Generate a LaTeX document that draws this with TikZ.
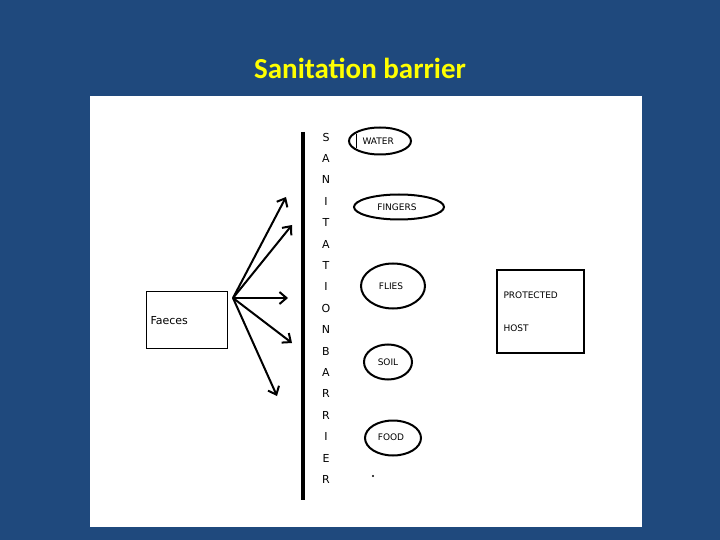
\documentclass[tikz,border=0pt]{standalone}
\usepackage{fontspec}
\usetikzlibrary{shapes.geometric,arrows.meta}
\setmainfont{DejaVu Sans}
\newfontfamily\titlefont{Carlito}
\definecolor{bg}{HTML}{1F497D}
\definecolor{ttl}{HTML}{FFFF00}
\begin{document}
\begin{tikzpicture}[x=1pt,y=-1pt,
  lbl/.style={font=\fontsize{9}{10}\selectfont},
  blob/.style={draw,line width=2pt,ellipse,inner sep=0pt},
  arr/.style={line width=2pt,-{Straight Barb[length=7pt,width=12pt]}}]
\fill[bg] (0,0) rectangle (720,540);
\useasboundingbox (0,0) rectangle (720,540);
\fill[white] (90,96) rectangle (642,527);
\node[font=\titlefont\bfseries\fontsize{29}{32}\selectfont,text=ttl] (title) at (360,68) {Sanitation barrier};
\node[draw,line width=0.6pt,minimum width=81pt,minimum height=57pt,anchor=north west,inner sep=0pt] (f) at (146,291) {};
\node[font=\fontsize{11}{12}\selectfont,anchor=west] (ft) at (147,321) {Faeces};
\coordinate (o) at (233,298);
\coordinate (a) at (286,197);
\coordinate (b) at (292,225);
\coordinate (c) at (288,298);
\coordinate (d) at (292,343);
\coordinate (e) at (277,396);
\draw[arr] (o) -- (a);
\draw[arr] (o) -- (b);
\draw[arr] (o) -- (c);
\draw[arr] (o) -- (d);
\draw[arr] (o) -- (e);
\draw[line width=3.5pt] (303,132) coordinate (bt) -- (303,500) coordinate (bb);
\foreach \l [count=\i] in {S,A,N,I,T,A,T,I,O,N,B,A,R,R,I,E,R}{
  \node[font=\fontsize{11}{12}\selectfont] (L\i) at (326,{137+(\i-1)*21.4}) {\l};}
\node[blob,minimum width=62pt,minimum height=27pt] (w) at (380,141) {};
\node[lbl,anchor=west] (wt) at (359,141) {WATER};
\draw[line width=0.8pt] (356,134) coordinate (w1) -- (356,148) coordinate (w2);
\node[blob,minimum width=90pt,minimum height=25pt] (fi) at (399,207) {};
\node[lbl] (fit) at (397,207) {FINGERS};
\node[blob,minimum width=64pt,minimum height=45pt] (fl) at (393,286) {};
\node[lbl] (flt) at (391,286) {FLIES};
\node[blob,minimum width=48pt,minimum height=35pt] (so) at (388,362) {};
\node[lbl] (sot) at (388,362) {SOIL};
\node[blob,minimum width=56pt,minimum height=35pt] (fo) at (393,438) {};
\node[lbl] (fot) at (391,437) {FOOD};
\fill (373,476) circle (1.2pt);
\node[draw,line width=2pt,minimum width=87pt,minimum height=83pt,anchor=north west,inner sep=0pt] (ph) at (496,269) {};
\node[lbl,anchor=west] (pt) at (500,295) {PROTECTED};
\node[lbl,anchor=west] (ht) at (500,328) {HOST};
\end{tikzpicture}
\end{document}
